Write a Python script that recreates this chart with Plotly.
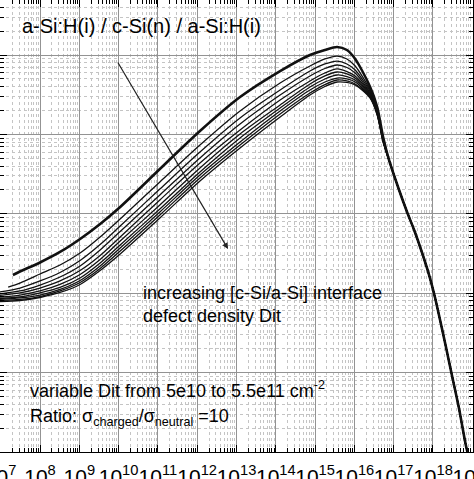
import numpy as np
import plotly.graph_objects as go

# ---- data (log10 of the abscissa / ordinate) ----
x_start_thick = [7.31, 7.49]
x_start_second = [7.19, 7.49]
x_start_others = [6.97, 7.49]
x_left = [8.00, 8.51, 9.02, 9.53, 10.04]
x_main = [11.05, 12.07, 13.09, 14.11, 14.87, 15.25, 15.56, 15.81, 16.02, 16.40, 16.58, 16.73]
x_tail = [16.88, 17.11, 17.34, 17.52, 17.69, 17.87, 18.03, 18.18, 18.33, 18.48, 18.66, 18.84, 18.97]
log_y_tail = [3.678, 3.338, 3.023, 2.796, 2.557, 2.280, 1.990, 1.662, 1.322, 0.970, 0.554, 0.076, -0.176]

log_y_c1 = [2.229, 2.273, 2.387, 2.519, 2.683, 2.872, 3.086,
            3.564, 4.043, 4.471, 4.798, 5.000, 5.063, 5.101, 5.063, 4.950, 4.597, 4.345, 3.967]
log_y_c2 = [2.078, 2.128, 2.242, 2.355, 2.506, 2.708, 2.935,
            3.401, 3.866, 4.295, 4.647, 4.861, 4.950, 4.987, 4.950, 4.861, 4.559, 4.320, 3.955]
log_y_c3 = [2.015, 2.065, 2.154, 2.261, 2.412, 2.613, 2.846,
            3.312, 3.778, 4.207, 4.559, 4.798, 4.887, 4.924, 4.887, 4.811, 4.540, 4.307, 3.948]
log_y_c4 = [1.990, 2.028, 2.103, 2.204, 2.343, 2.544, 2.777,
            3.237, 3.703, 4.131, 4.496, 4.736, 4.830, 4.874, 4.843, 4.773, 4.521, 4.295, 3.942]
log_y_c5 = [1.971, 2.003, 2.065, 2.154, 2.286, 2.475, 2.708,
            3.174, 3.640, 4.055, 4.433, 4.673, 4.773, 4.824, 4.792, 4.736, 4.509, 4.282, 3.936]
log_y_c6 = [1.952, 1.977, 2.028, 2.110, 2.236, 2.424, 2.657,
            3.111, 3.577, 4.005, 4.370, 4.635, 4.736, 4.786, 4.761, 4.710, 4.496, 4.276, 3.929]
log_y_c7 = [1.933, 1.952, 2.003, 2.072, 2.191, 2.380, 2.607,
            3.060, 3.526, 3.955, 4.332, 4.597, 4.698, 4.748, 4.729, 4.685, 4.484, 4.270, 3.923]
log_y_c8 = [1.921, 1.940, 1.977, 2.047, 2.160, 2.343, 2.569,
            3.023, 3.489, 3.904, 4.295, 4.559, 4.660, 4.710, 4.698, 4.660, 4.471, 4.257, 3.917]
log_y_c9 = [1.908, 1.921, 1.958, 2.028, 2.135, 2.311, 2.531,
            2.985, 3.451, 3.866, 4.257, 4.521, 4.628, 4.685, 4.673, 4.635, 4.465, 4.251, 3.911]
log_y_c10 = [1.895, 1.908, 1.946, 2.009, 2.110, 2.286, 2.494,
             2.947, 3.413, 3.829, 4.219, 4.496, 4.603, 4.660, 4.654, 4.622, 4.458, 4.244, 3.904]

dit_labels = ["Dit 1", "Dit 2", "Dit 3", "Dit 4", "Dit 5", "Dit 6", "Dit 7", "Dit 8", "Dit 9", "Dit 10"]
x_tick_exponents = list(range(7, 20))

FONT = "Liberation Sans, Arial, Helvetica, sans-serif"
W, H = 474, 479
ML, MR, MT, MB = 0, 1, 0, 27
PW, PH = W - ML - MR, H - MT - MB

curves = [log_y_c1, log_y_c2, log_y_c3, log_y_c4, log_y_c5,
          log_y_c6, log_y_c7, log_y_c8, log_y_c9, log_y_c10]

fig = go.Figure()
for i, ly in enumerate(curves[::-1]):
    idx = len(curves) - 1 - i
    if idx == 0:
        xs = x_start_thick
    elif idx == 1:
        xs = x_start_second
    else:
        xs = x_start_others
    lx = xs + x_left + x_main + x_tail
    lyy = ly + log_y_tail
    fig.add_trace(go.Scatter(
        x=np.power(10.0, lx), y=np.power(10.0, lyy), mode="lines",
        name=dit_labels[idx], showlegend=False, hoverinfo="skip",
        line=dict(color="#111111", width=2.6 if idx == 0 else 1.3,
                  shape="spline", smoothing=0.8)))

minor_x = [m * 10.0 ** k for k in range(6, 20) for m in range(2, 10)]
minor_y = [m * 10.0 ** k for k in range(-1, 6) for m in range(2, 10)]

common_axis = dict(type="log", showline=True, linecolor="black", linewidth=1,
                   mirror="allticks", ticks="inside", ticklen=7, tickwidth=1,
                   tickcolor="black", showgrid=True, gridcolor="#939393",
                   gridwidth=1, zeroline=False, layer="above traces",
                   automargin=False)

fig.update_xaxes(**common_axis,
                 range=[6.982, 19.018],
                 tickmode="array",
                 tickvals=[10.0 ** k for k in x_tick_exponents],
                 ticktext=[f"10<sup>{k}</sup>" for k in x_tick_exponents],
                 tickfont=dict(family=FONT, size=21, color="black"),
                 tickangle=0, ticklabeloverflow="allow",
                 ticklabelstandoff=6,
                 minor=dict(tickmode="array", tickvals=minor_x, ticks="inside",
                            ticklen=4, tickcolor="black", showgrid=True,
                            gridcolor="#c4c4c4", griddash="dot", gridwidth=1))
fig.update_yaxes(**common_axis,
                 range=[0, PH / 79.4],
                 tickmode="array",
                 tickvals=[10.0 ** k for k in range(0, 6)],
                 showticklabels=False,
                 minor=dict(tickmode="array", tickvals=minor_y, ticks="inside",
                            ticklen=4, tickcolor="black", showgrid=True,
                            gridcolor="#c4c4c4", griddash="dot", gridwidth=1))

def px_x(p):
    return p / PW

def px_y(p):
    return 1 - p / PH

shapes = [
    dict(type="rect", xref="paper", yref="paper", x0=0, x1=px_x(262),
         y0=px_y(42), y1=1, fillcolor="white", line=dict(width=0), layer="between"),
    dict(type="rect", xref="paper", yref="paper", x0=px_x(130), x1=px_x(392),
         y0=px_y(327), y1=px_y(272), fillcolor="white", line=dict(width=0), layer="between"),
    dict(type="rect", xref="paper", yref="paper", x0=0, x1=px_x(342),
         y0=0, y1=px_y(362), fillcolor="white", line=dict(width=0), layer="between"),
]

annotations = [
    dict(xref="paper", yref="paper", x=px_x(20), y=px_y(26), xanchor="left",
         yanchor="middle", showarrow=False, text="a-Si:H(i) / c-Si(n) / a-Si:H(i)",
         font=dict(family=FONT, size=20, color="black")),
    dict(xref="paper", yref="paper", x=px_x(141), y=px_y(304), xanchor="left",
         yanchor="middle", showarrow=False, align="left",
         text="increasing [c-Si/a-Si] interface<br>defect density Dit",
         font=dict(family=FONT, size=18, color="black")),
    dict(xref="paper", yref="paper", x=px_x(28), y=px_y(389), xanchor="left",
         yanchor="middle", showarrow=False,
         text="variable Dit from 5e10 to 5.5e11 cm<sup>-2</sup>",
         font=dict(family=FONT, size=18, color="black")),
    dict(xref="paper", yref="paper", x=px_x(28), y=px_y(417), xanchor="left",
         yanchor="middle", showarrow=False,
         text="Ratio: σ<sub>charged</sub>/σ<sub>neutral</sub> =10",
         font=dict(family=FONT, size=18, color="black")),
    dict(xref="x", yref="y", axref="x", ayref="y",
         x=12.784, y=2.557, ax=9.959, ay=4.924, text="", showarrow=True,
         arrowhead=2, arrowsize=1, arrowwidth=1.2, arrowcolor="#222222", standoff=0),
]

fig.update_layout(width=W, height=H, margin=dict(l=ML, r=MR, t=MT, b=MB, pad=0),
                  paper_bgcolor="white", plot_bgcolor="white",
                  shapes=shapes, annotations=annotations, showlegend=False,
                  font=dict(family=FONT, color="black"))

fig.write_html("out.html")
